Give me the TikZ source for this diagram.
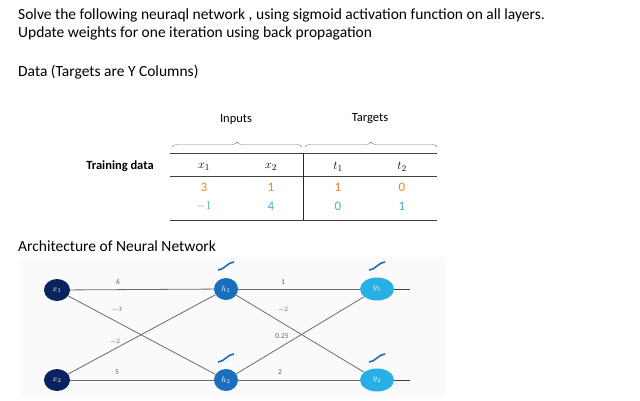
\documentclass[tikz,border=0pt]{standalone}
\usepackage{fontspec}
\setmainfont{Carlito}
\usetikzlibrary{decorations.pathreplacing,shapes.geometric}
\definecolor{navy}{RGB}{10,35,95}
\definecolor{hblue}{RGB}{25,110,190}
\definecolor{yblue}{RGB}{40,175,230}
\definecolor{org}{RGB}{240,130,50}
\definecolor{cyn}{RGB}{80,170,210}
\begin{document}
\begin{tikzpicture}[x=1pt,y=-1pt,
 txt/.style={anchor=west,font=\fontsize{15.5}{18}\selectfont,inner sep=0},
 neu/.style={ellipse,minimum width=26pt,minimum height=22pt,inner sep=0,text=white,font=\fontsize{8}{9}\selectfont},
 wl/.style={font=\fontsize{7.5}{9}\selectfont,text=gray!80!black,inner sep=1pt},
 cell/.style={font=\fontsize{13}{15}\selectfont,inner sep=0},
 edge/.style={draw=gray!85!black,line width=0.8pt},
 sig/.style={draw=hblue,line width=1.6pt}]
\useasboundingbox[fill=white] (0,0) rectangle (640,400);
\fill[gray!4] (20,257) rectangle (445,397);
\node[txt] (l1) at (18,15) {Solve the following neuraql network , using sigmoid activation function on all layers.};
\node[txt] (l2) at (18,33) {Update weights for one iteration using back propagation};
\node[txt] (l3) at (18,72) {Data (Targets are Y Columns)};
\node[txt] (l4) at (18,246) {Architecture of Neural Network};
% table
\node[font=\fontsize{12.5}{14}\selectfont] (inp) at (236,119) {Inputs};
\node[font=\fontsize{12.5}{14}\selectfont] (tar) at (370,119) {Targets};
\draw[decorate,decoration={brace,amplitude=5pt},gray] (172,147) -- (302,147);
\draw[decorate,decoration={brace,amplitude=5pt},gray] (305,147) -- (437,147);
\draw[line width=0.9pt,black!75] (170,153) -- (437,153);
\draw[line width=0.6pt,black!75] (170,176) -- (437,176);
\draw[line width=0.9pt,black!75] (170,220) -- (437,220);
\draw[line width=1pt,black!85] (303,153) -- (303,220);
\node[font=\fontsize{12.5}{14}\selectfont\bfseries] (td) at (120,166) {Training data};
\node[cell] (hx1) at (204,167) {$x_1$};
\node[cell] (hx2) at (271,167) {$x_2$};
\node[cell] (ht1) at (338,167) {$t_1$};
\node[cell] (ht2) at (402,167) {$t_2$};
\node[cell,text=org] (a1) at (204,187) {3};
\node[cell,text=org] (a2) at (271,187) {1};
\node[cell,text=org] (a3) at (338,187) {1};
\node[cell,text=org] (a4) at (402,187) {0};
\node[cell,text=cyn] (b1) at (204,206) {$-1$};
\node[cell,text=cyn] (b2) at (271,206) {4};
\node[cell,text=cyn] (b3) at (338,206) {0};
\node[cell,text=cyn] (b4) at (402,206) {1};
% network
\node[neu,fill=navy] (x1) at (57,290) {$x_1$};
\node[neu,fill=navy] (x2) at (57,380) {$x_2$};
\node[neu,fill=hblue,minimum width=24pt] (h1) at (226,289) {$h_1$};
\node[neu,fill=hblue,minimum width=24pt] (h2) at (226,380) {$h_2$};
\node[neu,fill=yblue,minimum width=34pt,minimum height=23pt] (y1) at (377,289) {$y_1$};
\node[neu,fill=yblue,minimum width=34pt,minimum height=23pt] (y2) at (377,380) {$y_2$};
\coordinate (o1) at (410,289);
\coordinate (o2) at (410,380);
\draw[edge] (x1) -- (h1); \draw[edge] (x1) -- (h2);
\draw[edge] (x2) -- (h1); \draw[edge] (x2) -- (h2);
\draw[edge] (h1) -- (y1); \draw[edge] (h1) -- (y2);
\draw[edge] (h2) -- (y1); \draw[edge] (h2) -- (y2);
\draw[edge,black!75] (y1) -- (o1); \draw[edge,black!75] (y2) -- (o2);
\node[wl] (w1) at (118,282) {6};
\node[wl] (w2) at (117,310) {$-3$};
\node[wl] (w3) at (115,342) {$-2$};
\node[wl] (w4) at (117,372) {5};
\node[wl] (w5) at (283,282) {1};
\node[wl] (w6) at (283,310) {$-2$};
\node[wl] (w7) at (282,336) {0.25};
\node[wl] (w8) at (280,372) {2};
\foreach \p in {(226,266),(377,266),(226,358),(377,358)}{
 \draw[sig] \p ++(-8,4) .. controls +(6,0) and +(-6,0) .. ++(16,-8);}
\end{tikzpicture}
\end{document}
